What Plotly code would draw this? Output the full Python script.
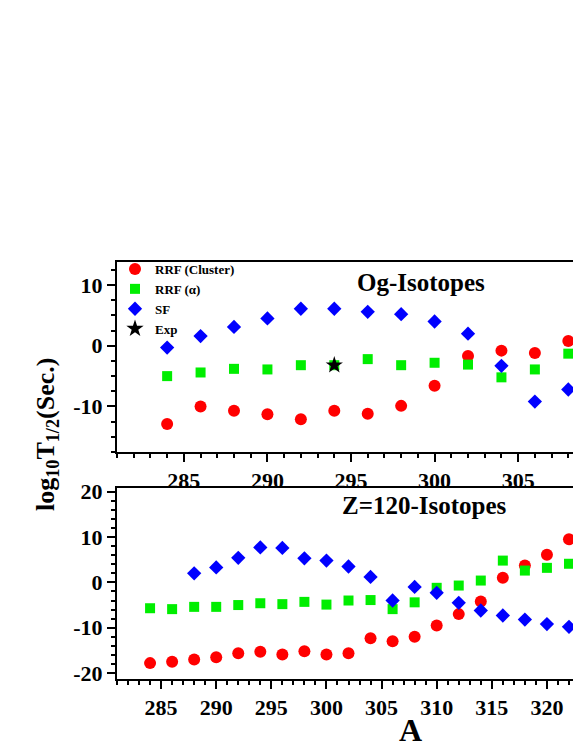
import plotly.graph_objects as go

# Og isotopes (top panel)
og_A = [284, 286, 288, 290, 292, 294, 296, 298, 300, 302, 304, 306, 308]
og_cluster = [-12.9, -10.0, -10.7, -11.3, -12.1, -10.7, -11.2, -9.9, -6.6, -1.7, -0.8, -1.2, 0.8]
og_alpha = [-5.0, -4.4, -3.8, -3.9, -3.2, -3.2, -2.2, -3.2, -2.8, -3.1, -5.2, -3.9, -1.3]
og_sf = [-0.3, 1.6, 3.1, 4.5, 6.1, 6.1, 5.6, 5.2, 4.0, 2.0, -3.3, -9.2, -7.2]
og_exp_A = [294]
og_exp = [-3.2]

# Z=120 isotopes (bottom panel)
z120_A = [284, 286, 288, 290, 292, 294, 296, 298, 300, 302, 304, 306, 308,
          310, 312, 314, 316, 318, 320, 322]
z120_cluster = [-17.8, -17.5, -17.0, -16.5, -15.6, -15.3, -15.9, -15.2, -15.9, -15.6,
                -12.3, -13.0, -12.0, -9.5, -7.0, -4.2, 1.0, 3.7, 6.1, 9.5]
z120_alpha = [-5.7, -5.9, -5.4, -5.4, -5.0, -4.6, -4.8, -4.3, -4.9, -4.0,
              -3.9, -5.9, -4.4, -1.2, -0.7, 0.4, 4.8, 2.6, 3.2, 4.1]
z120_sf_A = [288, 290, 292, 294, 296, 298, 300, 302, 304, 306, 308,
             310, 312, 314, 316, 318, 320, 322]
z120_sf = [2.0, 3.3, 5.4, 7.7, 7.6, 5.3, 4.8, 3.5, 1.2, -4.0, -1.0,
           -2.3, -4.5, -6.2, -7.3, -8.2, -9.2, -9.8]

# tick labels
og_xticks = [285, 290, 295, 300, 305]
og_yticks = [-10, 0, 10]
z120_xticks = [285, 290, 295, 300, 305, 310, 315, 320]
z120_yticks = [-20, -10, 0, 10, 20]

# page body has an 8px margin, so the figure starts at (8, 8) on screen
OFF = 8
W, H = 581 - OFF, 752 - OFF
L, R = 117 - OFF, 1
PW = W - L - R
FONT = "Liberation Serif"
RED, GREEN, BLUE = "#ff0000", "#00ee00", "#0000ff"


def xfrac(px):
    return (px - OFF - L) / PW


def yfrac(py):
    return 1 - (py - OFF) / H


def bold_ticks(vals):
    return dict(tickmode="array", tickvals=vals, ticktext=[f"<b>{v}</b>" for v in vals])


fig = go.Figure()

fig.add_trace(go.Scatter(x=og_A, y=og_cluster, mode="markers", name="RRF (Cluster)",
                         marker=dict(symbol="circle", size=12, color=RED), xaxis="x", yaxis="y"))
fig.add_trace(go.Scatter(x=og_A, y=og_alpha, mode="markers", name="RRF (\u03b1)",
                         marker=dict(symbol="square", size=10, color=GREEN), xaxis="x", yaxis="y"))
fig.add_trace(go.Scatter(x=og_A, y=og_sf, mode="markers", name="SF",
                         marker=dict(symbol="diamond", size=11, color=BLUE), xaxis="x", yaxis="y"))
fig.add_trace(go.Scatter(x=og_exp_A, y=og_exp, mode="markers", name="Exp",
                         marker=dict(symbol="star", size=13, color="black"), xaxis="x", yaxis="y"))

fig.add_trace(go.Scatter(x=z120_A, y=z120_cluster, mode="markers", showlegend=False,
                         marker=dict(symbol="circle", size=12, color=RED), xaxis="x2", yaxis="y2"))
fig.add_trace(go.Scatter(x=z120_A, y=z120_alpha, mode="markers", showlegend=False,
                         marker=dict(symbol="square", size=10, color=GREEN), xaxis="x2", yaxis="y2"))
fig.add_trace(go.Scatter(x=z120_sf_A, y=z120_sf, mode="markers", showlegend=False,
                         marker=dict(symbol="diamond", size=11, color=BLUE), xaxis="x2", yaxis="y2"))

axis_common = dict(showline=True, linecolor="black", linewidth=2, mirror=True,
                   ticks="outside", ticklen=8, tickwidth=2, tickcolor="black",
                   showgrid=False, zeroline=False,
                   tickfont=dict(family=FONT, size=22, color="black"))
minor_x = dict(dtick=1, tick0=285, ticks="outside", ticklen=4, tickwidth=1.5, tickcolor="black")

fig.update_layout(
    width=W, height=H,
    margin=dict(l=L, r=R, t=0, b=0, autoexpand=False),
    plot_bgcolor="white", paper_bgcolor="white",
    xaxis=dict(domain=[0, 1], anchor="y", range=[281, 308.7], minor=minor_x,
               **bold_ticks(og_xticks), **axis_common),
    yaxis=dict(domain=[yfrac(452), yfrac(262)], anchor="x", range=[-17.5, 13.8],
               minor=dict(dtick=2.5, tick0=0, ticks="outside", ticklen=4, tickwidth=1.5,
                          tickcolor="black"),
               **bold_ticks(og_yticks), **axis_common),
    xaxis2=dict(domain=[0, 1], anchor="y2", range=[281, 323], minor=minor_x,
                **bold_ticks(z120_xticks), **axis_common),
    yaxis2=dict(domain=[yfrac(679), yfrac(488)], anchor="x2", range=[-21.3, 20.8],
                minor=dict(dtick=2, tick0=0, ticks="outside", ticklen=4, tickwidth=1.5,
                           tickcolor="black"),
                **bold_ticks(z120_yticks), **axis_common),
    legend=dict(x=xfrac(115), y=yfrac(254), xanchor="left", yanchor="top",
                bgcolor="rgba(0,0,0,0)", tracegroupgap=0,
                font=dict(family=FONT, size=13, color="black", weight="bold")),
    showlegend=True,
)

ann_font = dict(family=FONT, color="black", weight="bold")
labels = [
    ("Og-Isotopes", 421, 282, 25, 0),
    ("Z=120-Isotopes", 424, 505, 25, 0),
    ("log<sub>10</sub>T<sub>1/2</sub>(Sec.)", 47, 435, 26, -90),
    ("A", 410, 730, 32, 0),
]
for text, px, py, size, angle in labels:
    fig.add_annotation(text=text, x=xfrac(px), y=yfrac(py), xref="paper", yref="paper",
                       xanchor="center", yanchor="middle", textangle=angle,
                       showarrow=False, font=dict(size=size, **ann_font))

fig.write_html("out.html")
